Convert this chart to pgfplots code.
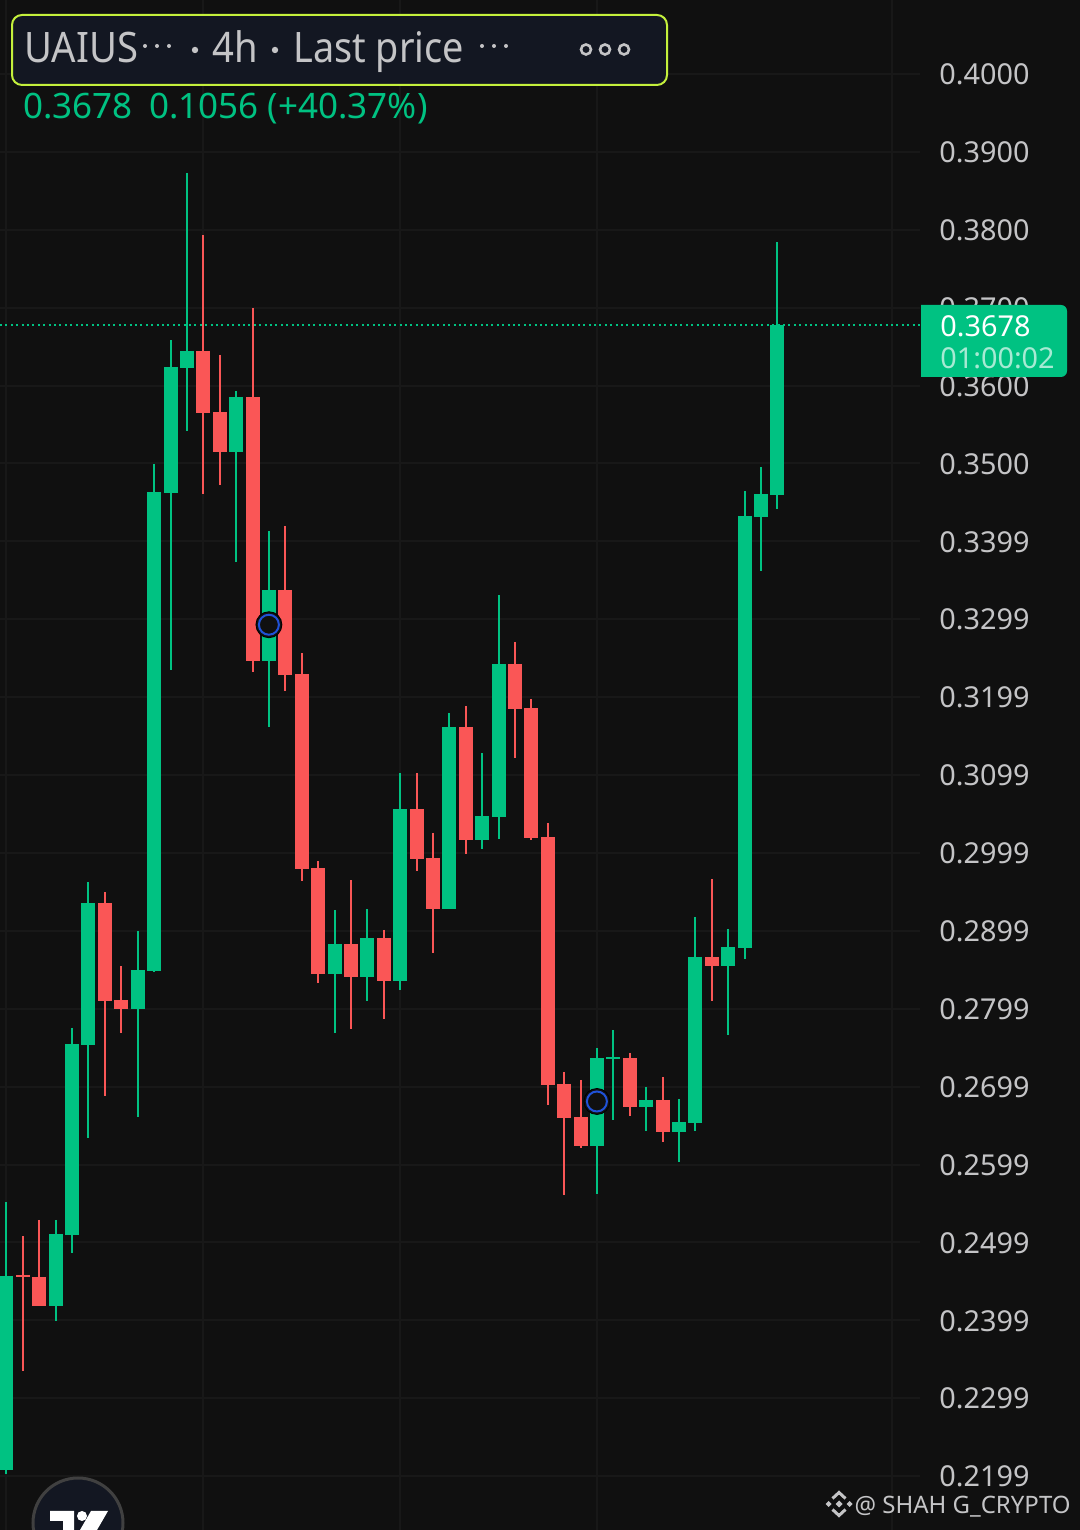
\documentclass[border=0pt]{standalone}
\usepackage{fontspec}
\setmainfont{Noto Sans}
\usepackage{pgfplots}
\usepackage{pgfplotstable}
\pgfplotsset{compat=1.18}
\definecolor{bg}{HTML}{101010}
\definecolor{gridc}{HTML}{181818}
\definecolor{upc}{HTML}{00C282}
\definecolor{downc}{HTML}{FA5656}
\definecolor{boxc}{HTML}{131722}
\definecolor{edgec}{HTML}{C4F03C}
\definecolor{txt}{HTML}{C4C4C6}
\definecolor{ringc}{HTML}{2052D8}
\pgfplotstableread{
i hi top bot lo
0 0.25520 0.24570 0.22080 0.22028
3 0.25289 0.25109 0.24185 0.23992
4 0.27754 0.27548 0.25096 0.24865
5 0.29628 0.29358 0.27535 0.26341
8 0.28999 0.28498 0.27997 0.26611
9 0.34994 0.34634 0.28485 0.28472
10 0.36585 0.36239 0.34621 0.32349
11 0.38729 0.36444 0.36226 0.35417
14 0.35931 0.35854 0.35148 0.33736
16 0.34134 0.33376 0.32465 0.31618
20 0.29268 0.28832 0.28447 0.27689
22 0.29281 0.28909 0.28408 0.28100
24 0.31027 0.30565 0.28357 0.28241
27 0.31797 0.31618 0.29281 0.29281
29 0.31284 0.30475 0.30167 0.30051
30 0.33312 0.32426 0.30462 0.30180
36 0.27497 0.27368 0.26239 0.25623
37 0.27728 0.27381 0.27356 0.26573
39 0.26996 0.26829 0.26739 0.26431
41 0.26842 0.26547 0.26418 0.26033
42 0.29179 0.28665 0.26534 0.26431
44 0.29024 0.28793 0.28549 0.27664
45 0.34647 0.34326 0.28781 0.28639
46 0.34955 0.34608 0.34313 0.33620
47 0.37843 0.36778 0.34596 0.34416
}\upcandles
\pgfplotstableread{
i hi top bot lo
1 0.25083 0.24583 0.24557 0.23350
2 0.25289 0.24557 0.24185 0.24185
6 0.29499 0.29358 0.28100 0.26881
7 0.28549 0.28113 0.27997 0.27689
12 0.37933 0.36444 0.35648 0.34608
13 0.36393 0.35661 0.35148 0.34724
15 0.36996 0.35854 0.32465 0.32324
17 0.34198 0.33376 0.32285 0.32080
18 0.32567 0.32298 0.29795 0.29641
19 0.29897 0.29808 0.28447 0.28331
21 0.29653 0.28832 0.28408 0.27741
23 0.29012 0.28909 0.28357 0.27869
25 0.31027 0.30565 0.29923 0.29769
26 0.30257 0.29936 0.29281 0.28716
28 0.31887 0.31618 0.30167 0.29987
31 0.32709 0.32426 0.31849 0.31220
32 0.31977 0.31861 0.30193 0.30167
33 0.30385 0.30205 0.27022 0.26765
34 0.27189 0.27035 0.26598 0.25610
35 0.27086 0.26611 0.26239 0.26213
38 0.27433 0.27368 0.26739 0.26624
40 0.27125 0.26829 0.26418 0.26290
43 0.29666 0.28665 0.28549 0.28100
}\downcandles
\newcommand{\wicks}[2]{\addplot[forget plot,draw=none,mark=none,error bars/.cd,y dir=minus,y explicit,error mark=none,error bar style={draw=#2,line width=1pt}] table[x=i,y=hi,y error plus expr=0,y error minus expr=\thisrow{hi}-\thisrow{lo}] {#1};}
\newcommand{\bodies}[2]{\addplot[forget plot,draw=none,mark=none,error bars/.cd,y dir=minus,y explicit,error mark=none,error bar style={draw=#2,line width=7pt}] table[x=i,y=top,y error plus expr=0,y error minus expr=\thisrow{top}-\thisrow{bot}] {#1};}
\begin{document}
\begin{tikzpicture}
\path[use as bounding box] (0,0) rectangle (540pt,765pt);
\fill[bg] (0,0) rectangle (540pt,765pt);
\begin{axis}[
  at={(0,0)},anchor=south west,
  scale only axis,width=460pt,height=765pt,
  xmin=-0.396,xmax=55.70,ymin=0.21309,ymax=0.4095,
  axis line style={draw=none},
  tick style={draw=none},major tick length=0pt,
  xtick={0,12,24,36,54},xticklabels={},
  ytick={0.40,0.39,0.38,0.37,0.36,0.35,0.34,0.33,0.32,0.31,0.30,0.29,0.28,0.27,0.26,0.25,0.24,0.23,0.22},
  yticklabels={0.4000,0.3900,0.3800,0.3700,0.3600,0.3500,0.3399,0.3299,0.3199,0.3099,0.2999,0.2899,0.2799,0.2699,0.2599,0.2499,0.2399,0.2299,0.2199},
  ytick pos=right,yticklabel pos=right,
  yticklabel style={anchor=west,inner sep=0pt,xshift=9.5pt,yshift=-0.2pt,font=\fontsize{14.4}{16}\selectfont,text=txt},
  grid=major,grid style={draw=gridc,line width=1pt},
]
\wicks{\upcandles}{upc}
\wicks{\downcandles}{downc}
\bodies{\upcandles}{upc}
\bodies{\downcandles}{downc}
\addplot[forget plot,upc,line width=1pt,dash pattern=on 1pt off 1.7pt] coordinates {(-0.396,0.3678) (55.70,0.3678)};
\addplot[forget plot,only marks,mark=*,mark size=6.5pt,mark options={draw=none,fill=bg}] coordinates {(16,0.32930) (36,0.26810)};
\addplot[forget plot,only marks,mark=*,mark size=5pt,mark options={draw=ringc,fill=bg,line width=1pt}] coordinates {(16,0.32930) (36,0.26810)};
\end{axis}
\begin{scope}[shift={(0pt,765pt)},x=0.5pt,y=-0.5pt]
  % header box
  \draw[edgec,fill=boxc,line width=1pt,rounded corners=5pt] (12,15) rectangle (667,85);
  \node[anchor=base west,inner sep=0pt,text=txt,font=\fontsize{21}{24}\selectfont] at (24,63) {\scalebox{0.91}[1]{UAIUS}};
  \node[anchor=base west,inner sep=0pt,text=txt,font=\fontsize{21}{24}\selectfont] at (212,63) {\scalebox{0.91}[1]{4h}};
  \node[anchor=base west,inner sep=0pt,text=txt,font=\fontsize{21}{24}\selectfont] at (293,63) {\scalebox{0.9}[1]{Last price}};
  \foreach \cx in {145,157,169,482,494,506} \fill[txt] (\cx,46) circle (2);
  \foreach \cx in {195,275} \fill[txt] (\cx,50) circle (3.2);
  \foreach \cx in {586,605,624} \draw[txt,line width=1.3pt] (\cx,49.5) circle (5);
  % change line
  \node[anchor=base west,inner sep=0pt,text=upc,font=\fontsize{17.5}{20}\selectfont] at (23,119) {0.3678};
  \node[anchor=base west,inner sep=0pt,text=upc,font=\fontsize{17.5}{20}\selectfont] at (149,119) {0.1056 (+40.37\%)};
  % price tag
  \fill[upc] (921,305) [rounded corners=3pt] -- (1067,305) -- (1067,377) [sharp corners] -- (921,377) -- cycle;
  \node[anchor=base west,inner sep=0pt,text=white,font=\fontsize{14.4}{16}\selectfont] at (940,337) {0.3678};
  \node[anchor=base west,inner sep=0pt,text=white!65!upc,font=\fontsize{14.4}{16}\selectfont] at (940,369) {01:00:02};
  % logo
  \begin{scope}
    \clip (0,0) rectangle (1080,1530);
    \draw[fill=boxc,draw=black!50!gray,line width=1.5pt] (78,1523) circle (45);
    \fill[white] (50,1511) -- (74,1511) -- (74,1530) -- (63,1530) -- (63,1521) -- (50,1521) -- cycle;
    \fill[white] (82,1516) circle (5);
    \fill[white] (91,1511) -- (108,1511) -- (97,1530) -- (80,1530) -- cycle;
  \end{scope}
  % watermark
  \fill[txt] (839,1500.5) -- (842.5,1504) -- (839,1507.5) -- (835.5,1504) -- cycle;
  \fill[txt] (828.5,1501) -- (831.5,1504) -- (828.5,1507) -- (825.5,1504) -- cycle;
  \fill[txt] (849.5,1501) -- (852.5,1504) -- (849.5,1507) -- (846.5,1504) -- cycle;
  \draw[txt,line width=1.5pt] (832.5,1498.5) -- (839,1492.5) -- (845.5,1498.5);
  \draw[txt,line width=1.5pt] (832.5,1509.5) -- (839,1515.5) -- (845.5,1509.5);
  \node[anchor=base east,inner sep=0pt,text=txt,font=\fontsize{12}{14}\selectfont] at (1071,1513) {@ SHAH G\_CRYPTO};
\end{scope}
\end{tikzpicture}
\end{document}
